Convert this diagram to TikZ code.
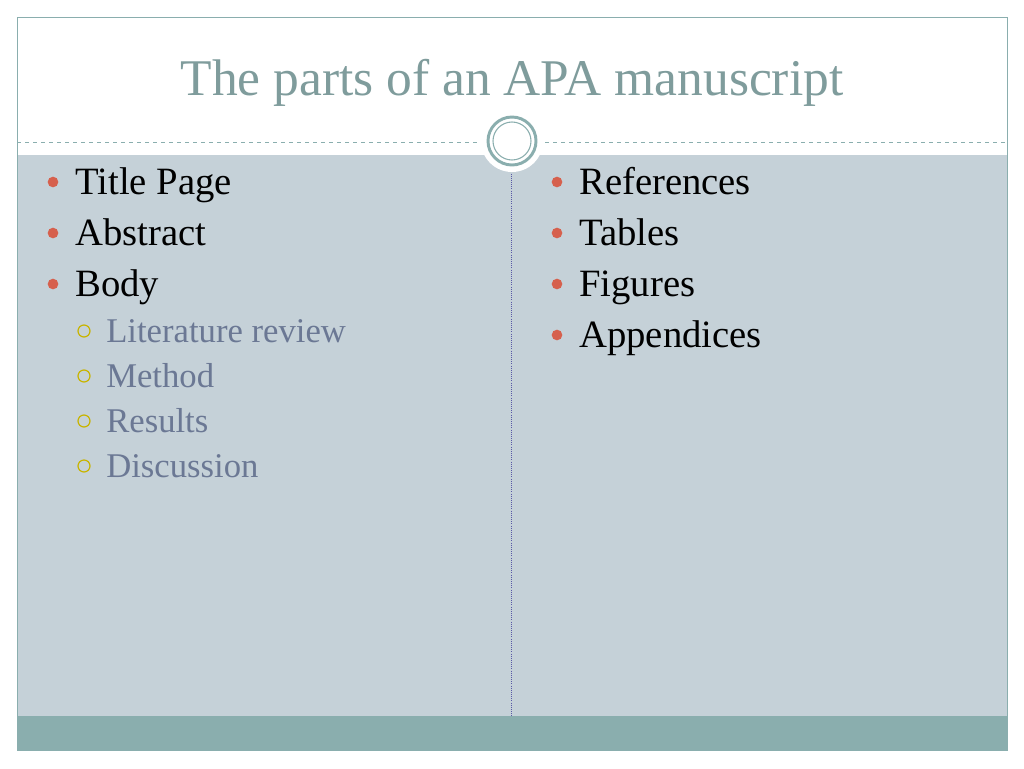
\documentclass[tikz,border=0pt]{standalone}
\usepackage{fontspec}
\setmainfont{Liberation Serif}
\definecolor{panelgray}{HTML}{C5D1D8}
\definecolor{bandteal}{HTML}{8AAEAE}
\definecolor{titleteal}{HTML}{7F9C9C}
\definecolor{dotred}{HTML}{D6604D}
\definecolor{subyellow}{HTML}{C8B400}
\definecolor{subtext}{HTML}{6B7894}
\tikzset{
  item/.style={anchor=base west, font=\fontsize{29}{32}\selectfont, inner sep=0pt},
  subitem/.style={anchor=base west, font=\fontsize{26}{30}\selectfont, text=subtext, inner sep=0pt},
  bullet/.style={circle, fill=dotred, inner sep=0pt, minimum size=8pt},
  subbullet/.style={circle, draw=subyellow, line width=0.9pt, inner sep=0pt, minimum size=9pt}
}
\begin{document}
\begin{tikzpicture}[x=0.75pt, y=-0.75pt]
\useasboundingbox (0,0) rectangle (1024,768);
\fill[white] (0,0) rectangle (1024,768);
% frame and bands
\fill[panelgray] (17,155) rectangle (1007,716);
\fill[bandteal] (17,716) rectangle (1007,750);
\draw[bandteal, line width=0.6pt] (17,17) rectangle (1007,750);
\draw[bandteal, dashed, line width=0.5pt] (17,142) -- (1007,142);
\draw[gray!70!blue, densely dotted, line width=0.6pt] (511,165) -- (511,716);
\fill[white] (512,141) circle (31);
\draw[bandteal, line width=2.2pt] (512,141) circle (24);
\draw[bandteal, line width=0.8pt] (512,141) circle (19);
% title
\node[text=titleteal, font=\fontsize{38.6}{42}\selectfont, anchor=base] (title) at (512,95) {The parts of an APA manuscript};
% left column
\foreach \t [count=\i] in {Title Page, Abstract, Body} {
  \node[bullet] (lb\i) at (53,{182+51*(\i-1)}) {};
  \node[item] (lt\i) at (75,{194+51*(\i-1)}) {\t};
}
\foreach \t [count=\i] in {Literature review, Method, Results, Discussion} {
  \node[subbullet] (sb\i) at (84,{331+45*(\i-1)}) {};
  \node[subitem] (st\i) at (106,{342+45*(\i-1)}) {\t};
}
% right column
\foreach \t [count=\i] in {References, Tables, Figures, Appendices} {
  \node[bullet] (rb\i) at (557,{182+51*(\i-1)}) {};
  \node[item] (rt\i) at (579,{194+51*(\i-1)}) {\t};
}
\end{tikzpicture}
\end{document}
